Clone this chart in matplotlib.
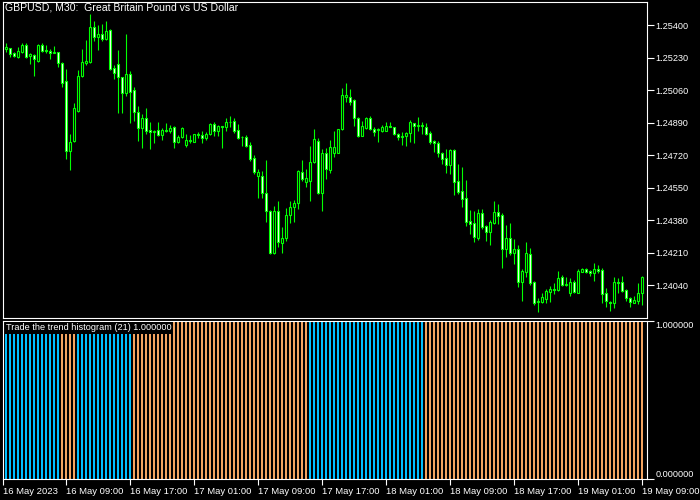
import matplotlib

matplotlib.use("Agg")
import matplotlib.pyplot as plt
import numpy as np

plt.rcParams["font.family"] = ["Liberation Sans", "DejaVu Sans"]

CHART_TITLE = "GBPUSD, M30:  Great Britain Pound vs US Dollar"
INDICATOR_TITLE = "Trade the trend histogram (21) 1.000000"

# M30 bars, 16 May 01:30 .. 19 May 09:00 (prices)
OPEN = [
    1.25276, 1.25278, 1.25252, 1.25234, 1.25261, 1.25296, 1.25240, 1.25243, 1.25212, 1.25296,
    1.25269, 1.25264, 1.25255, 1.25257, 1.25200, 1.25107, 1.24743, 1.24795, 1.24952, 1.25135,
    1.25203, 1.25205, 1.25388, 1.25339, 1.25353, 1.25325, 1.25374, 1.25174, 1.25196, 1.25127,
    1.25043, 1.25144, 1.25060, 1.24947, 1.24863, 1.24912, 1.24851, 1.24842, 1.24851, 1.24825,
    1.24851, 1.24847, 1.24865, 1.24790, 1.24816, 1.24773, 1.24799, 1.24790, 1.24830, 1.24825,
    1.24808, 1.24830, 1.24883, 1.24847, 1.24872, 1.24868, 1.24895, 1.24898, 1.24851, 1.24813,
    1.24813, 1.24773, 1.24703, 1.24612, 1.24612, 1.24520, 1.24429, 1.24206, 1.24428, 1.24259,
    1.24285, 1.24407, 1.24447, 1.24468, 1.24633, 1.24581, 1.24586, 1.24682, 1.24795, 1.24523,
    1.24729, 1.24642, 1.24732, 1.24732, 1.24855, 1.25022, 1.25022, 1.25008, 1.24912, 1.24821,
    1.24863, 1.24912, 1.24856, 1.24851, 1.24847, 1.24847, 1.24872, 1.24865, 1.24830, 1.24813,
    1.24821, 1.24834, 1.24886, 1.24874, 1.24877, 1.24868, 1.24837, 1.24795, 1.24785, 1.24732,
    1.24703, 1.24668, 1.24747, 1.24584, 1.24532, 1.24494, 1.24375, 1.24363, 1.24288, 1.24415,
    1.24349, 1.24319, 1.24366, 1.24421, 1.24407, 1.24229, 1.24285, 1.24209, 1.24227, 1.24058,
    1.24110, 1.24203, 1.24058, 1.23950, 1.23953, 1.23967, 1.24005, 1.24020, 1.24014, 1.24081,
    1.24040, 1.24000, 1.24058, 1.24000, 1.24110, 1.24124, 1.24114, 1.24102, 1.24123, 1.24119,
    1.23997, 1.23953, 1.23948, 1.24055, 1.24055, 1.24014, 1.23971, 1.23948, 1.23958, 1.24000,
]
HIGH = [
    1.25305, 1.25282, 1.25261, 1.25287, 1.25305, 1.25305, 1.25252, 1.25247, 1.25299, 1.25305,
    1.25296, 1.25273, 1.25290, 1.25259, 1.25205, 1.25170, 1.24830, 1.24991, 1.25165, 1.25273,
    1.25322, 1.25458, 1.25421, 1.25400, 1.25405, 1.25421, 1.25379, 1.25191, 1.25269, 1.25130,
    1.25353, 1.25160, 1.25074, 1.24977, 1.24935, 1.24965, 1.24891, 1.24851, 1.24891, 1.24860,
    1.24886, 1.24877, 1.24872, 1.24825, 1.24868, 1.24830, 1.24825, 1.24832, 1.24842, 1.24846,
    1.24842, 1.24889, 1.24891, 1.24877, 1.24874, 1.24912, 1.24924, 1.24912, 1.24881, 1.24820,
    1.24825, 1.24790, 1.24720, 1.24646, 1.24637, 1.24694, 1.24432, 1.24454, 1.24480, 1.24342,
    1.24442, 1.24480, 1.24485, 1.24640, 1.24694, 1.24646, 1.24767, 1.24855, 1.24808, 1.24752,
    1.24759, 1.24799, 1.24846, 1.24858, 1.25069, 1.25095, 1.25066, 1.25013, 1.24918, 1.24900,
    1.24921, 1.24924, 1.24868, 1.24860, 1.24877, 1.24891, 1.24891, 1.24868, 1.24834, 1.24839,
    1.24842, 1.24903, 1.24889, 1.24918, 1.24891, 1.24886, 1.24846, 1.24799, 1.24794, 1.24738,
    1.24752, 1.24752, 1.24752, 1.24673, 1.24656, 1.24590, 1.24433, 1.24429, 1.24438, 1.24438,
    1.24354, 1.24380, 1.24480, 1.24464, 1.24419, 1.24354, 1.24363, 1.24279, 1.24250, 1.24124,
    1.24264, 1.24232, 1.24062, 1.23971, 1.23997, 1.24018, 1.24035, 1.24052, 1.24114, 1.24093,
    1.24081, 1.24075, 1.24067, 1.24124, 1.24131, 1.24128, 1.24119, 1.24154, 1.24145, 1.24131,
    1.24023, 1.23957, 1.24081, 1.24075, 1.24088, 1.24018, 1.23979, 1.23983, 1.24049, 1.24088,
]
LOW = [
    1.25261, 1.25234, 1.25234, 1.25229, 1.25252, 1.25228, 1.25195, 1.25135, 1.25205, 1.25257,
    1.25252, 1.25222, 1.25255, 1.25179, 1.25078, 1.24699, 1.24642, 1.24790, 1.24947, 1.25130,
    1.25191, 1.25200, 1.25317, 1.25269, 1.25317, 1.25322, 1.25165, 1.25118, 1.24942, 1.24942,
    1.25029, 1.24886, 1.24900, 1.24795, 1.24759, 1.24830, 1.24752, 1.24785, 1.24820, 1.24799,
    1.24839, 1.24837, 1.24759, 1.24782, 1.24811, 1.24761, 1.24782, 1.24788, 1.24808, 1.24782,
    1.24799, 1.24825, 1.24821, 1.24821, 1.24759, 1.24847, 1.24868, 1.24835, 1.24804, 1.24767,
    1.24761, 1.24691, 1.24619, 1.24497, 1.24497, 1.24372, 1.24203, 1.24203, 1.24241, 1.24209,
    1.24271, 1.24366, 1.24372, 1.24436, 1.24584, 1.24555, 1.24481, 1.24677, 1.24516, 1.24429,
    1.24595, 1.24625, 1.24711, 1.24730, 1.24851, 1.24999, 1.24982, 1.24874, 1.24815, 1.24818,
    1.24856, 1.24851, 1.24821, 1.24790, 1.24842, 1.24845, 1.24865, 1.24825, 1.24799, 1.24773,
    1.24769, 1.24787, 1.24785, 1.24847, 1.24830, 1.24825, 1.24778, 1.24738, 1.24711, 1.24672,
    1.24628, 1.24621, 1.24511, 1.24515, 1.24447, 1.24349, 1.24307, 1.24267, 1.24276, 1.24332,
    1.24272, 1.24250, 1.24360, 1.24360, 1.24131, 1.24185, 1.24197, 1.24150, 1.24028, 1.23958,
    1.24084, 1.24040, 1.23936, 1.23901, 1.23948, 1.23948, 1.23953, 1.23993, 1.24011, 1.24035,
    1.24035, 1.23983, 1.23997, 1.23998, 1.24107, 1.24106, 1.24088, 1.24063, 1.24105, 1.23948,
    1.23927, 1.23906, 1.23919, 1.24000, 1.24005, 1.23958, 1.23927, 1.23945, 1.23941, 1.23936,
]
CLOSE = [
    1.25284, 1.25247, 1.25240, 1.25264, 1.25296, 1.25234, 1.25247, 1.25221, 1.25296, 1.25266,
    1.25263, 1.25255, 1.25259, 1.25200, 1.25095, 1.24743, 1.24790, 1.24965, 1.25134, 1.25205,
    1.25212, 1.25388, 1.25339, 1.25353, 1.25325, 1.25370, 1.25170, 1.25148, 1.25127, 1.25043,
    1.25144, 1.25051, 1.24947, 1.24863, 1.24912, 1.24847, 1.24842, 1.24848, 1.24825, 1.24851,
    1.24846, 1.24863, 1.24790, 1.24813, 1.24863, 1.24799, 1.24795, 1.24830, 1.24827, 1.24811,
    1.24830, 1.24883, 1.24847, 1.24874, 1.24869, 1.24895, 1.24892, 1.24847, 1.24811, 1.24816,
    1.24769, 1.24699, 1.24633, 1.24630, 1.24523, 1.24429, 1.24206, 1.24428, 1.24264, 1.24285,
    1.24407, 1.24447, 1.24468, 1.24637, 1.24593, 1.24598, 1.24682, 1.24802, 1.24520, 1.24729,
    1.24646, 1.24761, 1.24761, 1.24856, 1.25034, 1.25034, 1.24999, 1.24912, 1.24821, 1.24872,
    1.24912, 1.24855, 1.24842, 1.24856, 1.24865, 1.24872, 1.24867, 1.24829, 1.24813, 1.24820,
    1.24837, 1.24891, 1.24874, 1.24877, 1.24870, 1.24830, 1.24790, 1.24782, 1.24729, 1.24699,
    1.24668, 1.24747, 1.24581, 1.24528, 1.24490, 1.24372, 1.24360, 1.24293, 1.24415, 1.24345,
    1.24319, 1.24368, 1.24421, 1.24403, 1.24229, 1.24285, 1.24206, 1.24227, 1.24058, 1.24114,
    1.24206, 1.24053, 1.23948, 1.23958, 1.23976, 1.24011, 1.24020, 1.24014, 1.24075, 1.24040,
    1.24044, 1.24055, 1.24002, 1.24114, 1.24124, 1.24110, 1.24102, 1.24123, 1.24115, 1.23992,
    1.23958, 1.23948, 1.24055, 1.24049, 1.24011, 1.23971, 1.23953, 1.23962, 1.24000, 1.24084,
]

PRICE_TICKS = [1.25400, 1.25230, 1.25060, 1.24890, 1.24720, 1.24550, 1.24380, 1.24210, 1.24040]
PRICE_RANGE = (1.23868, 1.25521)

TIME_TICK_BARS = [0, 15, 31, 47, 63, 79, 95, 111, 127, 143, 159]
TIME_LABELS = ["16 May 2023", "16 May 09:00", "16 May 17:00", "17 May 01:00", "17 May 09:00",
               "17 May 17:00", "18 May 01:00", "18 May 09:00", "18 May 17:00", "19 May 01:00",
               "19 May 09:00"]

# histogram: every bar is 1.0, colour = trend direction (run lengths in bars)
HIST_VALUE = 1.0
TREND_RUNS = [(14, "up"), (4, "down"), (14, "up"), (44, "down"), (29, "up"), (55, "down")]

BG = "black"
FG = "white"
CANDLE = "#00ff00"
UP_COL = "#00bfff"
DOWN_COL = "#f4a460"

W, H = 700, 500
fig = plt.figure(figsize=(W / 100, H / 100), dpi=100, facecolor=BG)
ax = fig.add_axes([3 / W, 1 - 318 / H, 644 / W, 316 / H], facecolor=BG)
ax2 = fig.add_axes([3 / W, 1 - 479 / H, 644 / W, 158 / H], facecolor=BG)

n = len(OPEN)
x = np.arange(n)
o, h, l, c = map(np.array, (OPEN, HIGH, LOW, CLOSE))

# candles: wick behind, body on top (bear = white body, bull = black body)
ax.vlines(x, l, h, color=CANDLE, lw=0.8, zorder=1)
fills = [FG if cc < oo else BG for oo, cc in zip(o, c)]
ax.bar(x, np.abs(c - o), bottom=np.minimum(o, c), width=0.5, color=fills,
       edgecolor=CANDLE, linewidth=0.8, zorder=2)

xlim = (-0.825, 160.2)
ax.set_xlim(*xlim)
ax.set_ylim(*PRICE_RANGE)
ax.set_xticks([])
ax.yaxis.tick_right()
ax.set_yticks(PRICE_TICKS)
ax.set_yticklabels([f"{p:.5f}" for p in PRICE_TICKS])
ax.tick_params(axis="y", colors=FG, length=5, width=0.8, pad=1, labelsize=6.6)

# indicator histogram
trend = [d for cnt, d in TREND_RUNS for _ in range(cnt)]
hist_cols = [UP_COL if d == "up" else DOWN_COL for d in trend]
ax2.bar(x, [HIST_VALUE] * n, width=0.5, color=hist_cols, linewidth=0)
ax2.set_xlim(*xlim)
ax2.set_ylim(0, 1.0)
ax2.yaxis.tick_right()
ax2.set_yticks([0.0, 1.0])
ax2.set_yticklabels(["0.000000", "1.000000"])
ylbls = ax2.get_yticklabels()
ylbls[0].set_va("bottom")
ylbls[1].set_va("top")
ax2.tick_params(axis="y", colors=FG, length=5, width=0.8, pad=1, labelsize=6.6)

tick_pos = [xlim[0]] + TIME_TICK_BARS[1:]
ax2.set_xticks(tick_pos)
ax2.set_xticklabels(TIME_LABELS, ha="left")
ax2.tick_params(axis="x", colors=FG, length=4, width=0.8, pad=1.5, labelsize=6.8)

for a in (ax, ax2):
    for s in a.spines.values():
        s.set_color(FG)
        s.set_linewidth(0.8)

fig.text(5 / W, 1 - 8 / H, CHART_TITLE, color=FG, fontsize=7.6, va="center", ha="left")
fig.text(6 / W, 1 - 328 / H, INDICATOR_TITLE, color=FG, fontsize=6.6, va="center", ha="left",
         bbox=dict(facecolor=BG, edgecolor="none", pad=0.8))

fig.savefig("out.png", dpi=100, facecolor=BG)
